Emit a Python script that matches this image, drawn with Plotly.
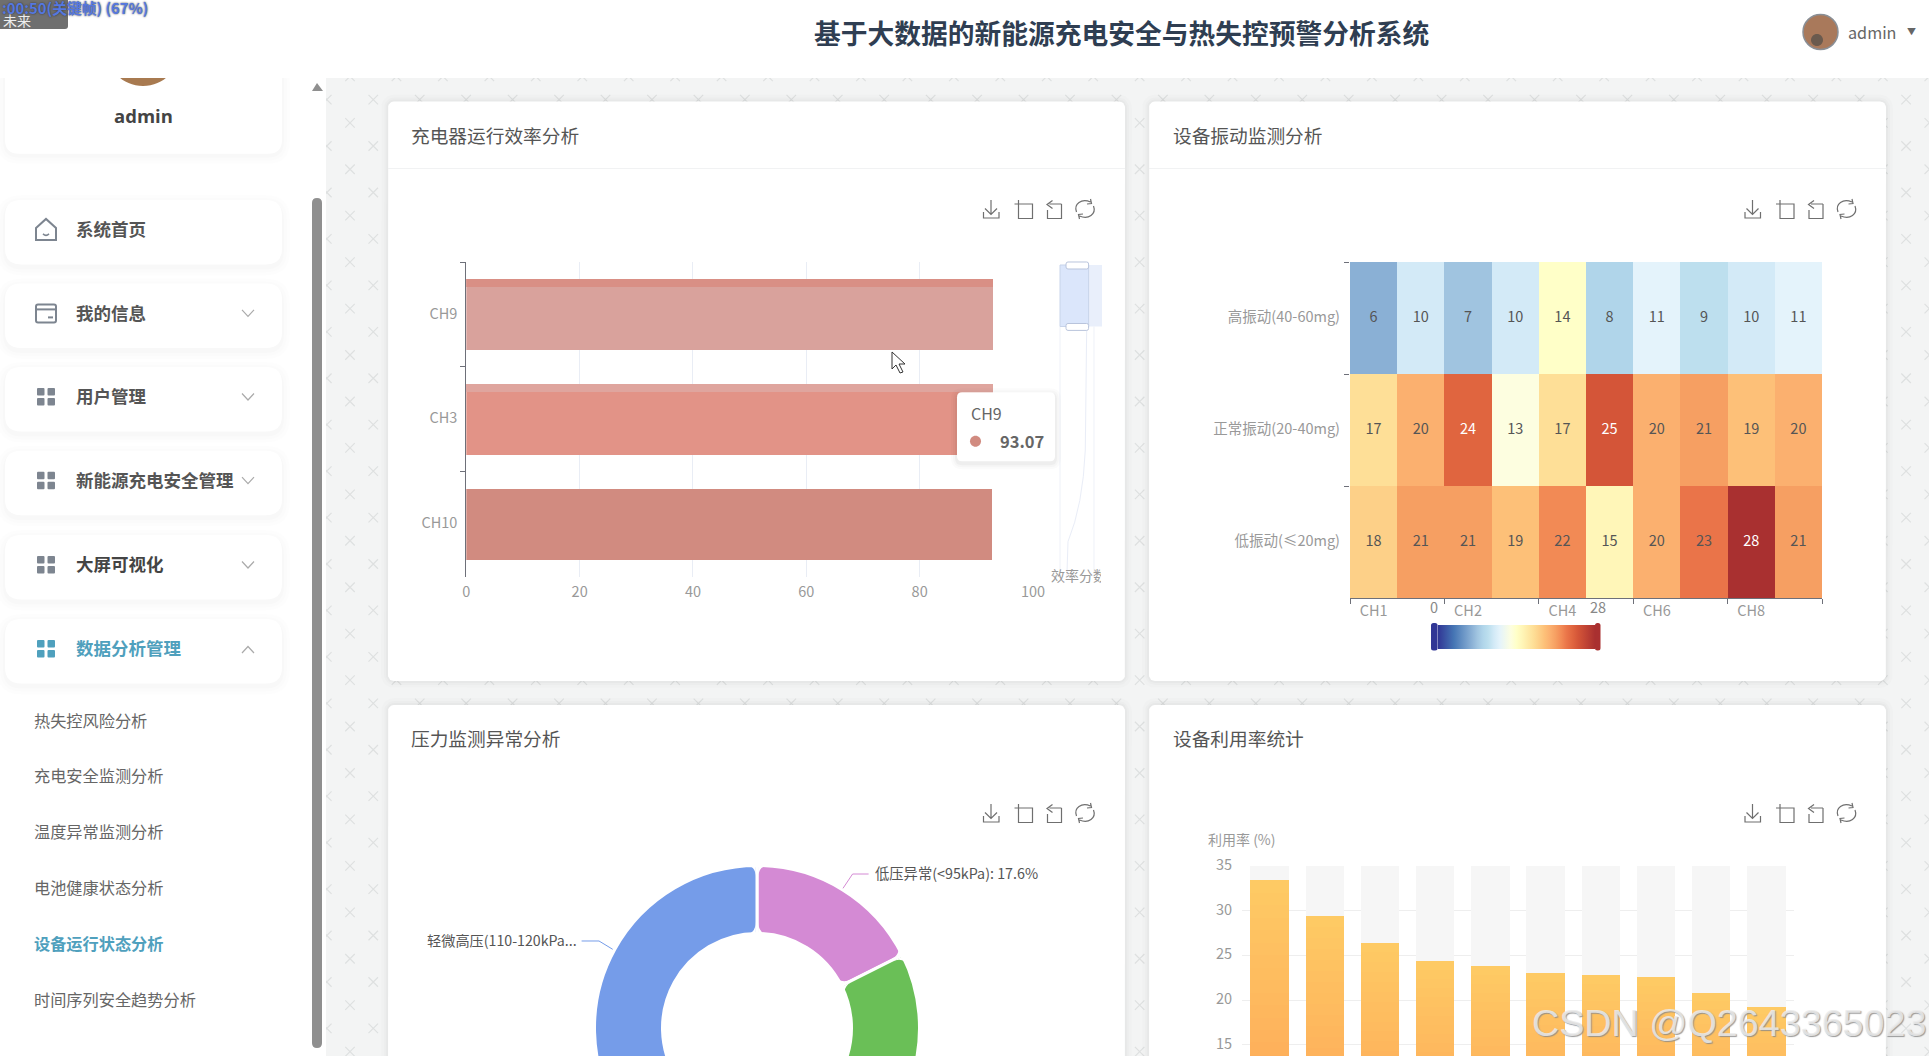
import math
import re
import plotly.graph_objects as go

# ---------- data ----------
eff_names = ["CH10", "CH3", "CH9"]
eff_values = [92.8, 93.0, 93.07]
eff_colors = ["#d18b80", "#e29387", "#d9a29c"]
band_names = ["CH3", "CH9"]
band_values = [93.0, 93.07]
band_colors = ["#dfa59e", "#d98f85"]
eff_ticks = [0, 20, 40, 60, 80, 100]

vib_channels = ["CH1", "CH10", "CH2", "CH3", "CH4", "CH5", "CH6", "CH7", "CH8", "CH9"]
vib_levels = ["低振动(≤20mg)", "正常振动(20-40mg)", "高振动(40-60mg)"]
vib_low = [18, 21, 21, 19, 22, 15, 20, 23, 28, 21]
vib_normal = [17, 20, 24, 13, 17, 25, 20, 21, 19, 20]
vib_high = [6, 10, 7, 10, 14, 8, 11, 9, 10, 11]

pressure_names = ["低压异常(<95kPa)", "正常压力(95-110kPa)", "严重高压(>120kPa)", "轻微高压(110-120kPa)"]
pressure_values = [17.6, 25.0, 23.5, 33.9]
pressure_colors = ["#d48ad4", "#6abf57", "#f3b562", "#759ce9"]

util_names = ["CH1", "CH2", "CH3", "CH4", "CH5", "CH6", "CH7", "CH8", "CH9", "CH10"]
util_values = [33.4, 29.4, 26.46, 24.4, 23.8, 23.07, 22.8, 22.6, 20.8, 19.24]
util_max = [35] * 10
util_ticks = [15, 20, 25, 30, 35]

heat_scale = [
    [0.0, "#313695"], [0.1, "#4575b4"], [0.214, "#8ab0d5"], [0.25, "#a0c4e0"], [0.286, "#b0d5ea"],
    [0.32, "#bcdfee"], [0.357, "#d3eaf7"], [0.393, "#e4f3fb"], [0.464, "#fdfee0"], [0.5, "#ffffc8"],
    [0.536, "#fff6b8"], [0.607, "#fedf97"], [0.643, "#fdd088"], [0.679, "#fdc078"], [0.714, "#fbb06f"],
    [0.75, "#f69f62"], [0.786, "#f28a55"], [0.82, "#ea7549"], [0.857, "#e0653f"], [0.893, "#d45538"],
    [1.0, "#a93030"],
]

# ---------- geometry helpers ----------
W, H, VIEW = 1929, 1300, 1056
FONT = "Noto Sans CJK SC"


def fx(px):
    return px / W


def fy(py):
    return 1 - py / H


def pxpath(s):
    out, is_x = [], True
    for tok in re.findall(r"[MLQCZ]|-?\d+\.?\d*", s):
        if tok in "MLQCZ":
            out.append(tok)
            is_x = True
        else:
            v = float(tok)
            out.append(f"{fx(v):.6f}" if is_x else f"{fy(v):.6f}")
            is_x = not is_x
    return " ".join(out)


shapes, annots = [], []


def sh(path, fill=None, line=None, lw=1, layer="below"):
    d = dict(type="path", path=pxpath(path), xref="paper", yref="paper", layer=layer,
             line=dict(color=line or "rgba(0,0,0,0)", width=lw if line else 0))
    if fill:
        d["fillcolor"] = fill
    shapes.append(d)


def rr(x0, y0, x1, y1, r):
    return (f"M {x0 + r} {y0} L {x1 - r} {y0} Q {x1} {y0} {x1} {y0 + r} L {x1} {y1 - r} Q {x1} {y1} {x1 - r} {y1} "
            f"L {x0 + r} {y1} Q {x0} {y1} {x0} {y1 - r} L {x0} {y0 + r} Q {x0} {y0} {x0 + r} {y0} Z")


def circ(cx, cy, r):
    k = 0.5523 * r
    return (f"M {cx + r} {cy} C {cx + r} {cy + k} {cx + k} {cy + r} {cx} {cy + r} "
            f"C {cx - k} {cy + r} {cx - r} {cy + k} {cx - r} {cy} "
            f"C {cx - r} {cy - k} {cx - k} {cy - r} {cx} {cy - r} "
            f"C {cx + k} {cy - r} {cx + r} {cy - k} {cx + r} {cy} Z")


def ann(x, y, text, size=14, color="#666666", anchor="left", bold=False, family=FONT, **kw):
    font = dict(size=size, color=color, family=family)
    font.update(kw.pop("font_extra", {}))
    annots.append(dict(xref="paper", yref="paper", x=fx(x), y=fy(y), xanchor=anchor, yanchor="middle",
                       text=f"<b>{text}</b>" if bold else text, showarrow=False, font=font, **kw))


def rrect_poly(x0, y0, x1, y1, r):
    xs, ys = [], []
    for cx, cy, a0 in [(x1 - r, y0 + r, -90), (x1 - r, y1 - r, 0), (x0 + r, y1 - r, 90), (x0 + r, y0 + r, 180)]:
        for i in range(7):
            a = math.radians(a0 + i * 15)
            xs.append(cx + r * math.cos(a))
            ys.append(cy + r * math.sin(a))
    return xs + xs[:1], ys + ys[:1]


fig = go.Figure()

# ---------- page background ----------
sh(f"M 0 0 L {W} 0 L {W} {H} L 0 {H} Z", fill="#ffffff")
sh(f"M 326 78 L {W} 78 L {W} {H} L 326 {H} Z", fill="#f3f4f4")

mark_x, mark_y = [], []
for k in range(-1, 44):
    for j in range(-3, 34):
        mark_x.append(419.7 + 46.45 * j + (23.2 if k % 2 else 0))
        mark_y.append(99.6 + 23.22 * k)
fig.add_trace(go.Scatter(x=mark_x, y=mark_y, mode="markers", xaxis="x", yaxis="y", hoverinfo="skip", showlegend=False,
                         marker=dict(symbol="x-thin", size=9.5, line=dict(color="#dee0e0", width=1.2))))

panels = [(388, 101.5, 1125, 681), (1149, 101.5, 1886, 681), (388, 705, 1125, 1290), (1149, 705, 1886, 1290)]
for p in panels:
    for grow, alpha in [(7, 0.012), (4, 0.016), (2, 0.02)]:
        xs, ys = rrect_poly(p[0] - grow, p[1] - grow, p[2] + grow, p[3] + grow, 6 + grow)
        fig.add_trace(go.Scatter(x=xs, y=ys, mode="lines", fill="toself", fillcolor=f"rgba(0,0,0,{alpha})",
                                 line=dict(width=0), hoverinfo="skip", showlegend=False, xaxis="x", yaxis="y"))
    xs, ys = rrect_poly(*p, 6)
    fig.add_trace(go.Scatter(x=xs, y=ys, mode="lines", fill="toself", fillcolor="#ffffff",
                             line=dict(width=0), hoverinfo="skip", showlegend=False, xaxis="x", yaxis="y"))

# ---------- charts ----------
# efficiency bars
fig.add_trace(go.Bar(y=eff_names, x=eff_values, orientation="h", width=0.683, marker=dict(color=eff_colors, line=dict(width=0)),
                     xaxis="x2", yaxis="y2", showlegend=False, hoverinfo="skip"))
fig.add_trace(go.Bar(y=band_names, x=band_values, orientation="h", width=0.077, offset=0.2645,
                     marker=dict(color=band_colors, line=dict(width=0)),
                     xaxis="x2", yaxis="y2", showlegend=False, hoverinfo="skip"))

# vibration heatmap
vib_z = [vib_low, vib_normal, vib_high]
fig.add_trace(go.Heatmap(z=vib_z, x=vib_channels, y=vib_levels, zmin=0, zmax=28, colorscale=heat_scale, xaxis="x3", yaxis="y3",
                         xgap=0, ygap=0, hoverinfo="skip",
                         colorbar=dict(orientation="h", x=fx(1438), y=fy(624.6), xanchor="left", yanchor="top", len=157,
                                       lenmode="pixels", thickness=24, thicknessmode="pixels", showticklabels=False,
                                       ticks="", outlinewidth=0, xpad=0, ypad=0, borderwidth=0)))
cell_x, cell_y, cell_t, cell_c = [], [], [], []
for lv, row in zip(vib_levels, vib_z):
    for ch, v in zip(vib_channels, row):
        cell_x.append(ch)
        cell_y.append(lv)
        cell_t.append(str(v))
        cell_c.append("#ffffff" if v >= 24 else "#555555")
fig.add_trace(go.Scatter(x=cell_x, y=cell_y, text=cell_t, mode="text", textposition="middle center",
                         textfont=dict(size=14.5, color=cell_c, family=FONT), xaxis="x3", yaxis="y3",
                         hoverinfo="skip", showlegend=False))

# pressure donut
cx, cy, R, r_in = 757, 1028, 162.5, 94.5
fig.add_trace(go.Pie(labels=pressure_names, values=pressure_values, hole=r_in / R, sort=False, direction="clockwise", rotation=0,
                     marker=dict(colors=pressure_colors, line=dict(color="#ffffff", width=3)), textinfo="none",
                     hoverinfo="skip", showlegend=False,
                     domain=dict(x=[fx(cx - R), fx(cx + R)], y=[fy(cy + R), fy(cy - R)])))


def polar(rho, deg):
    a = math.radians(deg)
    return cx + rho * math.sin(a), cy - rho * math.cos(a)


# white corner masks give the visible slice ends their rounded look
edge_angle = 360 * pressure_values[0] / sum(pressure_values)
for theta, side in [(0, -1), (0, 1), (edge_angle, -1), (edge_angle, 1)]:
    for rho, inward in [(R + 1, -1), (r_in - 1, 1)]:
        gap = 1.2
        d = 13
        ang = theta + side * math.degrees(gap / rho)
        cpt = polar(rho, ang)
        p1 = polar(rho, ang + side * math.degrees(d / rho))
        p2 = polar(rho + inward * d, theta + side * math.degrees(gap / (rho + inward * d)))
        sh(f"M {cpt[0]:.2f} {cpt[1]:.2f} L {p1[0]:.2f} {p1[1]:.2f} Q {cpt[0]:.2f} {cpt[1]:.2f} {p2[0]:.2f} {p2[1]:.2f} Z",
           fill="#ffffff", layer="above")

# utilisation bars
fig.add_trace(go.Bar(x=util_names, y=util_max, width=0.693, marker=dict(color="#f6f6f6", line=dict(width=0)), xaxis="x4", yaxis="y4",
                     showlegend=False, hoverinfo="skip"))
N = 24
for k in range(N):
    t = k / N
    col = f"rgb({round(254)},{round(202 - 46 * t)},{round(100 - 16 * t)})"
    fig.add_trace(go.Bar(x=util_names, y=[v * (1 - t) for v in util_values], width=0.693,
                         marker=dict(color=col, line=dict(width=0)), xaxis="x4", yaxis="y4",
                         showlegend=False, hoverinfo="skip"))

# ---------- chart furniture ----------
for (px0, py0), title in zip([(409, 134.2), (1170.5, 134.2), (409, 737.8), (1170.5, 737.8)],
                             ["充电器运行效率分析", "设备振动监测分析", "压力监测异常分析", "设备利用率统计"]):
    ann(px0, py0, title, size=18.7, color="#555555")
for px0, px1 in [(388, 1125), (1149, 1886)]:
    sh(f"M {px0} 168.5 L {px1} 168.5", line="#f1f2f3", lw=1, layer="above")


def toolbox(dx, dy):
    c = "#6f6f6f"

    def p(s):
        sh(re.sub(r"(-?\d+\.?\d*) (-?\d+\.?\d*)", lambda m: f"{float(m[1]) + dx} {float(m[2]) + dy}", s), line=c, lw=1.2, layer="above")

    p("M 991.5 201 L 991.5 215 M 985.5 209.5 L 991.5 215.5 L 997.5 209.5")
    p("M 984 213 L 984 219 L 999.5 219 L 999.5 213")
    p("M 1015 205 L 1033 205 L 1033 219.5 L 1019 219.5 L 1019 201")
    p("M 1062 205 L 1050 205 M 1053 201.5 L 1047.5 205.5 L 1053 209.5")
    p("M 1062 205 L 1062 219.5 L 1048 219.5 L 1048 211")
    p("M 1077 213 C 1074 205 1082 199 1091 203 M 1091 200 L 1092 204.5 L 1087.5 205")
    p("M 1094 207 C 1097 215 1089 221 1080 217 M 1080 220 L 1079 215.5 L 1083.5 215")


for dx, dy in [(-0.5, -1), (761, -1), (-0.5, 603), (761, 603)]:
    toolbox(dx, dy)

# efficiency data-zoom slider
sh("M 1060 326.5 L 1060 577", line="#eef1f8", lw=1, layer="above")
sh("M 1094 326.5 L 1094 577", line="#eef1f8", lw=1, layer="above")
sh("M 1086.7 327 L 1085.3 450 Q 1083 505 1068 541.6 L 1066.9 576", line="#e9edf7", lw=1, layer="above")
sh("M 1088.6 265 L 1102 265 L 1102 326.5 L 1088.6 326.5 Z", fill="#e9effb", layer="above")
sh("M 1060 265 L 1088.6 265 L 1088.6 326.5 L 1060 326.5 Z", fill="#dbe6fb", line="#c8d4ea", lw=1, layer="above")
sh(rr(1066, 262, 1088.6, 269, 2), fill="#ffffff", line="#b9c4dc", lw=1, layer="above")
sh(rr(1066, 323.5, 1088.6, 330.4, 2), fill="#ffffff", line="#b9c4dc", lw=1, layer="above")
annots.append(dict(xref="paper", yref="paper", x=fx(1049), y=fy(575), xanchor="left", yanchor="middle", text="效率分数", width=50,
                   align="left", showarrow=False, font=dict(size=14, color="#999999", family=FONT)))

# tooltip + cursor
for g, a in [(6, 0.015), (4, 0.02), (2, 0.03)]:
    sh(rr(957 - g, 392.3 - g + 2, 1055 + g, 461.2 + g + 2, 5 + g), fill=f"rgba(0,0,0,{a})", layer="above")
sh(rr(957, 392.3, 1055, 461.2, 5), fill="#ffffff", layer="above")
sh(circ(975.5, 441.3, 5.5), fill="#d18b80", layer="above")
ann(968.5, 413, "CH9", size=16, color="#666666")
ann(998, 441, "93.07", size=16.5, color="#666666", bold=True)
sh("M 892 352 L 892 369 L 896 365 L 900 373 L 903 372 L 899 364 L 905 364 Z", fill="#ffffff", line="#333333", lw=1, layer="above")

# visual-map handles and labels
sh(rr(1431, 623, 1437.6, 650.6, 2.5), fill="#313695", layer="above")
sh(rr(1595, 623, 1600.5, 650.6, 2.5), fill="#a93030", layer="above")
ann(1434, 606.4, "0", size=14.5, color="#888888", anchor="center")
ann(1597.6, 606.4, "28", size=14.5, color="#888888", anchor="center")

# donut labels
sh("M 843 888.3 L 852.6 874 L 868.6 874", line="#d48ad4", lw=1, layer="above")
sh("M 581.6 941 L 599 941 L 612.7 949.3", line="#759ce9", lw=1, layer="above")
ann(873.4, 872.8, "低压异常(&lt;95kPa): 17.6%", size=14.3, color="#555555")
ann(425, 939.5, "轻微高压(110-120kPa...", size=14.2, color="#555555")

# utilisation axis name
ann(1206, 838.8, "利用率 (%)", size=14, color="#999999")

# ---------- sidebar ----------
SHADOW = [(8, 0.006), (5, 0.008), (2, 0.012)]
for g, a in SHADOW:
    sh(rr(5 - g, 60, 282 + g, 153.8 + g + 2, 14 + g), fill=f"rgba(0,0,0,{a})")
sh(rr(5, 50, 282, 153.8, 14), fill="#ffffff")
sh(circ(143, 49, 37), fill="#a87a50")
ann(143, 115.4, "admin", size=18.5, color="#444444", anchor="center", bold=True, family="Open Sans")

menu_names = ["系统首页", "我的信息", "用户管理", "新能源充电安全管理", "大屏可视化", "数据分析管理"]
menu_y = [229.9, 313.4, 397, 480.7, 565, 649]
ICON = "#7d8590"
for i, (name, y) in enumerate(zip(menu_names, menu_y)):
    top, bot = y - 30, y + 34.5
    for g, a in SHADOW:
        sh(rr(5 - g, top - g + 3, 282 + g, bot + g + 3, 16 + g), fill=f"rgba(0,0,0,{a})")
    sh(rr(5, top, 282, bot, 16), fill="#ffffff")
    active = i == 5
    col = "#4fa0bd" if active else "#444444" if i == 4 else "#555555"
    ann(74.2, y - 1.3, name, size=17.5, color=col, bold=True)
    ic = "#4fa0bd" if active else ICON
    if i == 0:
        sh(f"M 36 {y - 2} L 46 {y - 11} L 56 {y - 2} L 56 {y + 10} L 36 {y + 10} Z", line=ic, lw=2)
        sh(f"M 43 {y + 4} Q 46 {y + 7} 49 {y + 4}", line=ic, lw=1.5)
    elif i == 1:
        sh(rr(36, y - 9, 56, y + 9, 2), line=ic, lw=2)
        sh(f"M 36 {y - 4} L 56 {y - 4}", line=ic, lw=2)
        sh(f"M 48 {y + 4} L 53 {y + 4}", line=ic, lw=2)
    else:
        for xa, xb in [(37, 44.5), (47.5, 55)]:
            for ya, yb in [(-9, -1.5), (1, 8.5)]:
                sh(rr(xa, y + ya, xb, y + yb, 1), fill=ic)
    if i > 0:
        if active:
            sh(f"M 242 {y + 4} L 248 {y - 2.5} L 254 {y + 4}", line="#aaaaaa", lw=1.2)
        else:
            sh(f"M 242 {y - 3.5} L 248 {y + 3} L 254 {y - 3.5}", line="#aaaaaa", lw=1.2)

sub_names = ["热失控风险分析", "充电安全监测分析", "温度异常监测分析", "电池健康状态分析", "设备运行状态分析", "时间序列安全趋势分析"]
sub_y = [721, 776.3, 832, 888, 944, 999.8]
for i, (name, y) in enumerate(zip(sub_names, sub_y)):
    ann(32.2, y - 1.3, name, size=16.2, color="#4fa0bd" if i == 4 else "#666666", bold=i == 4)

sh(rr(312, 198, 322, 1048, 5), fill="#8f8f8f")
sh("M 312 91 L 317 83 L 323 91 Z", fill="#8f8f8f")

# ---------- header ----------
sh(f"M 0 0 L {W} 0 L {W} 78 L 0 78 Z", fill="#ffffff")
ann(1122, 32.5, "基于大数据的新能源充电安全与热失控预警分析系统", size=26.75, color="#2f3e52", anchor="center", bold=True)
sh(circ(1820.5, 32, 17.5), fill="#a9795b", line="#8a8f96", lw=1.5)
sh(circ(1817, 40, 6), fill="#6a5a4e")
ann(1846, 31.5, "admin", size=16.2, color="#666666")
ann(1905, 31.5, "▼", size=9, color="#666666")

# top-left recorder overlay
sh(rr(-6, -6, 68, 29, 3), fill="#6f6f6f")
ann(1, 20, "未来", size=14, color="#eeeeee")
ann(0, 7, ":00:50(关键帧) (67%)", size=14.8, color="#5578e0", bold=True,
    font_extra=dict(shadow="0 0 2px #333333"))

# watermark
ann(1530, 1023, "CSDN @Q2643365023", size=37.7, color="rgba(236,236,236,0.85)", family="Liberation Sans",
    font_extra=dict(shadow="1px 1px 1px #8a8a8a"))

GRID = "#e9edf5"
TICK = dict(family=FONT, size=14.5, color="#999999")
fig.update_layout(
    width=W, height=H, margin=dict(l=0, r=0, t=0, b=0, pad=0, autoexpand=False), paper_bgcolor="#ffffff",
    plot_bgcolor="rgba(0,0,0,0)", barmode="overlay", bargap=0, shapes=shapes, annotations=annots,
    font=dict(family=FONT), showlegend=False,
    xaxis=dict(domain=[fx(326), 1], range=[326, W], visible=False, fixedrange=True),
    yaxis=dict(domain=[0, fy(78)], range=[H, 78], visible=False, fixedrange=True),
    xaxis2=dict(domain=[fx(466.3), fx(1033)], range=[0, 100], tickvals=eff_ticks, showgrid=True, gridcolor=GRID, zeroline=False,
                showline=False, ticks="", tickfont=TICK, anchor="y2", fixedrange=True, ticklabelstandoff=5),
    yaxis2=dict(domain=[fy(576.8), fy(262)], type="category", categoryorder="array", categoryarray=eff_names,
                range=[-0.5, 2.5], showgrid=False, zeroline=False, showline=True, linecolor="#6E7079", linewidth=1,
                ticks="outside", ticklen=5, tickcolor="#6E7079", tickson="boundaries", tickfont=TICK, anchor="x2", fixedrange=True,
                ticklabelstandoff=5, ticklabelshift=-1),
    xaxis3=dict(domain=[fx(1350), fx(1822)], type="category", categoryorder="array", categoryarray=vib_channels, range=[-0.5, 9.5],
                tickmode="linear", tick0=0, dtick=2, tickson="boundaries", ticks="outside", ticklen=5, tickcolor="#6E7079",
                showline=True, linecolor="#6E7079", showgrid=False, zeroline=False, tickfont=TICK, anchor="y3", fixedrange=True),
    yaxis3=dict(domain=[fy(598), fy(262)], type="category", categoryorder="array", categoryarray=vib_levels, range=[-0.5, 2.5],
                tickson="boundaries", ticks="outside", ticklen=5, tickcolor="#6E7079", showline=False, showgrid=False, zeroline=False,
                tickfont=TICK, anchor="x3", fixedrange=True, ticklabelstandoff=9, ticklabelshift=-1),
    xaxis4=dict(domain=[fx(1242), fx(1794)], type="category", categoryorder="array", categoryarray=util_names, showgrid=False,
                zeroline=False, showline=False, showticklabels=False, anchor="y4", fixedrange=True),
    yaxis4=dict(domain=[fy(1179.4), fy(865.7)], range=[0, 35], tickvals=util_ticks, showgrid=True, gridcolor="#eeeeee", zeroline=False,
                showline=False, ticks="", tickfont=TICK, anchor="x4", fixedrange=True, ticklabelstandoff=9, ticklabelshift=-1),
)

fig.write_html(
    "out.html",
    config=dict(displayModeBar=False, responsive=False),
    post_script=("document.documentElement.style.overflow='hidden';document.body.style.margin='0';"
                 f"document.body.style.overflow='hidden';document.body.style.height='{VIEW}px';"),
)
